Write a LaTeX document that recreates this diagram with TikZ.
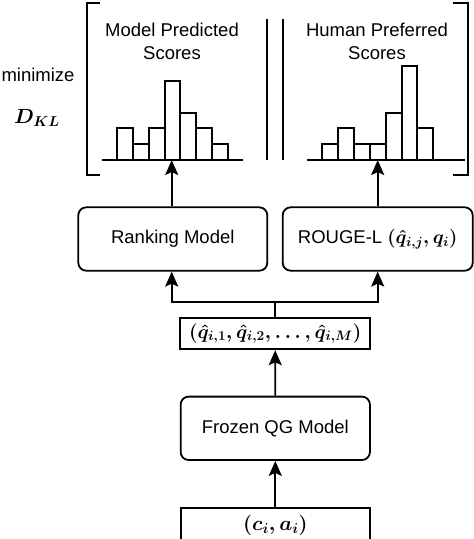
\RequirePackage{fix-cm}
\documentclass[tikz,border=0pt]{standalone}
\usepackage{fontspec}
\setmainfont{Liberation Sans}
\usetikzlibrary{arrows.meta}
\tikzset{
  lw/.style={line width=1.8pt},
  txt/.style={font=\fontsize{18.5}{23}\selectfont, align=center, inner sep=0pt},
  mth/.style={font=\fontsize{#1}{23}\selectfont\boldmath},
  mth/.default=18.5,
  rbox/.style={draw, lw, rounded corners=8pt, minimum height=63.4pt, inner sep=0pt, font=\fontsize{18.5}{23}\selectfont},
  sbox/.style={draw, lw, inner sep=0pt},
  arr/.style={lw, -{Stealth[length=15pt,width=13pt,inset=3pt]}},
  bar/.style={lw, fill=white}
}
\newcommand{\rougemath}[1]{{\fontsize{19}{23}\selectfont$#1$}}
\begin{document}
\begin{tikzpicture}[x=1pt,y=-1pt]
\useasboundingbox (0,0) rectangle (474,539);
% brackets
\draw[lw] (100,3) -- (86.7,3) -- (86.7,175) -- (100,175);
\draw[lw] (453,3) -- (468,3) -- (468,175) -- (453,175);
\draw[lw] (267.3,19) -- (267.3,160);
\draw[lw] (283.3,19) -- (283.3,160);
% labels
\node[txt] (mp) at (172,41.5) {Model Predicted\\Scores};
\node[txt] (hp) at (377,41.5) {Human Preferred\\Scores};
\node[txt] (mini) at (38,75) {minimize};
\node[txt, mth=20.5] (dkl) at (37,118) {$D_{KL}$};
% left histogram
\draw[lw] (102,160) -- (243,160);
\draw[bar] (117.3,160) rectangle (133.3,128.3);
\draw[bar] (133.3,160) rectangle (149,144.3);
\draw[bar] (149,160) rectangle (164.7,128.3);
\draw[bar] (164.7,160) rectangle (180.3,81);
\draw[bar] (180.3,160) rectangle (196.3,113.3);
\draw[bar] (196.3,160) rectangle (212.3,128.3);
\draw[bar] (212.3,160) rectangle (228,144.3);
\coordinate (lh) at (171.7,160);
% right histogram
\draw[lw] (306.7,160) -- (465,160);
\draw[bar] (322.3,160) rectangle (338.3,144.3);
\draw[bar] (338.3,160) rectangle (354,128.3);
\draw[bar] (354,160) rectangle (369.7,144.3);
\draw[bar] (369.7,160) rectangle (385.7,144.3);
\draw[bar] (385.7,160) rectangle (401.7,113.3);
\draw[bar] (401.7,160) rectangle (417.3,65.7);
\draw[bar] (417.3,160) rectangle (433.3,128.3);
\coordinate (rh) at (377.7,160);
% boxes
\node[rbox, minimum width=189pt] (rank) at (172.8,239) {Ranking Model};
\node[rbox, mth, minimum width=190pt] (rouge) at (377.7,239) {ROUGE-L \rougemath{(\hat{q}_{i,j}, q_i)}};
\node[sbox, mth=19.5, minimum width=189.7pt, minimum height=31.6pt] (qs) at (275.2,333.5) {$(\hat{q}_{i,1}, \hat{q}_{i,2}, \ldots, \hat{q}_{i,M})$};
\node[rbox, minimum width=189.3pt] (frozen) at (275.3,428.3) {Frozen QG Model};
\begin{scope}
\clip (0,0) rectangle (474,539);
\node[sbox, mth=20.5, minimum width=189.3pt, minimum height=36pt] (ci) at (275.3,525.7) {$(c_i, a_i)$};
\end{scope}
% connectors
\draw[arr] (rank.north -| lh) -- (lh);
\draw[arr] (rouge.north -| rh) -- (rh);
\draw[lw] (qs.north) -- ++(0,-15) coordinate (j);
\draw[arr] (j) -| (rank.south -| lh);
\draw[arr] (j) -| (rouge.south -| rh);
\draw[arr] (frozen.north) -- (qs.south);
\draw[arr] (ci.north) -- (frozen.south);
\end{tikzpicture}
\end{document}
